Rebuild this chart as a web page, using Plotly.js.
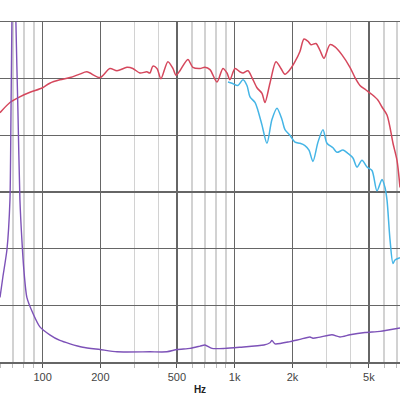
<!DOCTYPE html>
<html>
<head>
<meta charset="utf-8">
<script src="https://cdn.plot.ly/plotly-3.0.1.min.js"></script>
<style>html,body{margin:0;padding:0;background:#fff}#chart{width:400px;height:400px}</style>
</head>
<body>
<div id="chart"></div>
<script>
// Frequency response on-axis (red), SPL dB
const redFreq = [60,67.6,76,86,100,109,123,139,156,170,199,224,244,275,295,321,349,362,375,394,413,449,477,495,519,571,606,660,700,744,809,869,912,945,1004,1066,1105,1173,1231,1307,1388,1438,1527,1641,1742,1828,1941,2061,2188,2296,2409,2497,2651,2782,2918,3136,3330,3622,3986,4233,4494,4830,5190,5578,5851,6212,6441,6676,7004,7261];
const redDb = [97.0,97.9,98.4,98.8,99.2,99.6,99.9,100.1,100.4,100.6,100.1,100.9,100.7,101.0,100.9,100.5,100.6,100.5,101.1,100.9,100.0,101.5,100.9,100.3,100.7,101.7,101.0,100.9,101.0,100.8,99.7,100.9,100.5,99.9,100.9,100.6,100.5,100.7,100.1,99.2,98.7,97.9,99.6,101.5,100.9,100.4,100.8,101.5,102.4,103.5,103.3,103.0,103.1,102.5,101.8,103.0,102.8,102.1,101.0,100.1,99.4,99.0,98.6,98.1,97.5,96.8,95.7,94.3,92.8,90.4];

// Off-axis response (blue), SPL dB
const blueFreq = [923,968,1040,1105,1159,1202,1276,1322,1388,1473,1564,1661,1763,1828,1941,2061,2188,2323,2438,2557,2716,2884,3025,3251,3410,3665,3892,4131,4335,4603,4888,5190,5510,5851,6065,6212,6441,6676,6838,7261];
const blueDb = [99.7,99.6,99.4,99.9,99.4,98.4,97.9,97.2,95.9,94.3,96.4,97.4,96.4,95.5,95.0,94.4,94.3,94.1,93.7,92.7,94.4,95.5,94.3,93.9,93.5,93.7,93.4,93.0,92.2,92.8,92.2,91.9,90.1,91.1,90.4,89.3,85.8,83.7,84.0,84.2];

// Impedance (purple), ohms
const impFreq = [60,62.1,65.2,67.6,68.4,69.2,71,72.6,74.4,76.2,78,79.9,82.8,89,96.8,109,123,139,162,199,244,362,444,501,585,660,700,762,890,1066,1421,1527,1564,1622,1941,2188,2467,2557,2782,3212,3535,3986,4771,5713,7261];
const impOhm = [10.7,12.5,14.9,19.3,26.4,35,48,35,27.1,19.3,15.8,13.1,10.7,9.3,8.1,7.4,6.9,6.6,6.3,6.1,5.9,5.9,5.9,6.1,6.2,6.4,6.5,6.2,6.2,6.3,6.5,6.7,6.9,6.6,6.8,7.0,7.2,7.1,7.2,7.4,7.2,7.4,7.6,7.7,8.0];

const tickVals = [100,200,500,1000,2000,5000];
const tickText = ['100','200','500','1k','2k','5k'];
const minorVals = [60,70,80,90,300,400,600,700,800,900,3000,4000,6000,7000];

const traces = [
  {x: impFreq, y: impOhm, yaxis: 'y2', mode: 'lines', line: {color: '#7d52b8', width: 1.4, shape: 'spline', smoothing: 0.6}, hoverinfo: 'skip'},
  {x: redFreq, y: redDb, mode: 'lines', line: {color: '#d5475c', width: 1.5, shape: 'spline', smoothing: 0.8}, hoverinfo: 'skip'},
  {x: blueFreq, y: blueDb, mode: 'lines', line: {color: '#45b5e6', width: 1.5, shape: 'spline', smoothing: 0.8}, hoverinfo: 'skip'}
];

const layout = {
  width: 400, height: 400,
  margin: {l: 0, r: 0, t: 22, b: 38},
  paper_bgcolor: '#fff', plot_bgcolor: '#fff',
  showlegend: false,
  font: {family: 'Liberation Sans, Arial, sans-serif', color: '#333'},
  xaxis: {
    type: 'log',
    range: [Math.log10(60), Math.log10(7261)],
    tickmode: 'array', tickvals: tickVals, ticktext: tickText,
    tickfont: {size: 11, color: '#444'},
    ticks: 'outside', ticklen: 4, tickcolor: '#555', tickwidth: 1,
    showgrid: true, gridcolor: '#666', gridwidth: 1.5,
    minor: {tickmode: 'array', tickvals: minorVals, showgrid: true, gridcolor: '#d2d2d2', gridwidth: 1.4, ticks: 'outside', ticklen: 4, tickcolor: '#bbb'},
    showline: true, mirror: true, linecolor: '#666', linewidth: 1.5,
    zeroline: false,
    title: {text: '<b>Hz</b>', font: {size: 10, color: '#222'}, standoff: 4}
  },
  yaxis: {
    range: [75, 105], dtick: 5, tick0: 75,
    showticklabels: false, ticks: '',
    showgrid: true, gridcolor: '#666', gridwidth: 1.5,
    zeroline: false, showline: false
  },
  yaxis2: {
    range: [5, 35], overlaying: 'y', side: 'right',
    showgrid: false, showticklabels: false, zeroline: false, showline: false, ticks: ''
  }
};

Plotly.newPlot('chart', traces, layout, {staticPlot: true, displayModeBar: false});
</script>
</body>
</html>
